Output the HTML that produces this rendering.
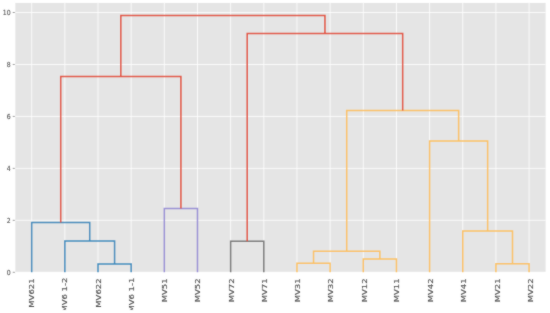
<!DOCTYPE html>
<html><head><meta charset="utf-8"><title>Dendrogram</title>
<style>html,body{margin:0;padding:0;background:#fff;width:550px;height:313px;overflow:hidden}svg{display:block}text{font-family:"DejaVu Sans","Liberation Sans",sans-serif;fill:#555555;stroke:#555555;stroke-width:0.2px}</style>
</head><body>
<svg width="550" height="313" viewBox="0 0 550 313">
<rect x="0" y="0" width="550" height="313" fill="#ffffff"/>
<defs><filter id="bl" x="-5%" y="-5%" width="110%" height="110%"><feConvolveMatrix order="3" kernelMatrix="1 2 1 2 20 2 1 2 1" edgeMode="duplicate"/></filter></defs>
<g filter="url(#bl)">
<defs><clipPath id="cb"><rect x="0" y="0" width="550" height="309.7"/></clipPath></defs>
<rect x="15.30" y="2.90" width="530.30" height="268.90" fill="#E5E5E5"/>
<path d="M31.68 2.90V271.80M64.84 2.90V271.80M98.00 2.90V271.80M131.16 2.90V271.80M164.32 2.90V271.80M197.48 2.90V271.80M230.64 2.90V271.80M263.80 2.90V271.80M296.96 2.90V271.80M330.12 2.90V271.80M363.28 2.90V271.80M396.44 2.90V271.80M429.60 2.90V271.80M462.76 2.90V271.80M495.92 2.90V271.80M529.08 2.90V271.80M15.30 220.34H545.60M15.30 168.38H545.60M15.30 116.42H545.60M15.30 64.46H545.60M15.30 12.50H545.60" stroke="#ffffff" stroke-width="0.8" fill="none"/>
<path d="M12.70 272.30H15.10M12.70 220.34H15.10M12.70 168.38H15.10M12.70 116.42H15.10M12.70 64.46H15.10M12.70 12.50H15.10" stroke="#555555" stroke-width="0.55" fill="none"/>
<text transform="translate(10.60,275.15) scale(0.88,1)" font-size="7.0" text-anchor="end" style="stroke-width:0.12px">0</text>
<text transform="translate(10.60,223.19) scale(0.88,1)" font-size="7.0" text-anchor="end" style="stroke-width:0.12px">2</text>
<text transform="translate(10.60,171.23) scale(0.88,1)" font-size="7.0" text-anchor="end" style="stroke-width:0.12px">4</text>
<text transform="translate(10.60,119.27) scale(0.88,1)" font-size="7.0" text-anchor="end" style="stroke-width:0.12px">6</text>
<text transform="translate(10.60,67.31) scale(0.88,1)" font-size="7.0" text-anchor="end" style="stroke-width:0.12px">8</text>
<text transform="translate(10.60,15.35) scale(0.88,1)" font-size="7.0" text-anchor="end" style="stroke-width:0.12px">10</text>
<path d="M98.00 272.30V263.91H131.16V272.30M64.84 272.30V240.89H114.58V263.91M31.68 272.30V222.50H89.71V240.89" stroke="#348ABD" stroke-width="1.5" fill="none" stroke-linejoin="miter" stroke-linecap="butt"/>
<path d="M164.32 272.30V208.49H197.48V272.30" stroke="#988ED5" stroke-width="1.5" fill="none" stroke-linejoin="miter" stroke-linecap="butt"/>
<path d="M230.64 272.30V241.20H263.80V272.30" stroke="#777777" stroke-width="1.5" fill="none" stroke-linejoin="miter" stroke-linecap="butt"/>
<path d="M296.96 272.30V263.31H330.12V272.30M363.28 272.30V258.89H396.44V272.30M313.54 263.31V251.31H379.86V258.89M495.92 272.30V263.80H529.08V272.30M462.76 272.30V230.89H512.50V263.80M429.60 272.30V141.10H487.63V230.89M346.70 251.31V110.50H458.62V141.10" stroke="#FBC15E" stroke-width="1.5" fill="none" stroke-linejoin="miter" stroke-linecap="butt"/>
<path d="M60.70 222.50V76.41H180.90V208.49M247.22 241.20V33.41H402.66V110.50M120.80 76.41V15.49H324.94V33.41" stroke="#E24A33" stroke-width="1.5" fill="none" stroke-linejoin="miter" stroke-linecap="butt"/>
<g clip-path="url(#cb)">
<text transform="translate(34.18,278.40) scale(0.92,1) rotate(-90)" font-size="8.5" text-anchor="end">MV621</text>
<text transform="translate(67.04,277.50) scale(0.92,1) rotate(-90)" font-size="8.5" text-anchor="end">MV6 1-2</text>
<text transform="translate(101.00,278.40) scale(0.92,1) rotate(-90)" font-size="8.5" text-anchor="end">MV622</text>
<text transform="translate(133.56,277.50) scale(0.92,1) rotate(-90)" font-size="8.5" text-anchor="end">MV6 1-1</text>
<text transform="translate(166.62,278.40) scale(0.92,1) rotate(-90)" font-size="8.5" text-anchor="end">MV51</text>
<text transform="translate(199.98,278.40) scale(0.92,1) rotate(-90)" font-size="8.5" text-anchor="end">MV52</text>
<text transform="translate(233.69,278.40) scale(0.92,1) rotate(-90)" font-size="8.5" text-anchor="end">MV72</text>
<text transform="translate(267.30,278.40) scale(0.92,1) rotate(-90)" font-size="8.5" text-anchor="end">MV71</text>
<text transform="translate(299.86,278.40) scale(0.92,1) rotate(-90)" font-size="8.5" text-anchor="end">MV31</text>
<text transform="translate(333.42,278.40) scale(0.92,1) rotate(-90)" font-size="8.5" text-anchor="end">MV32</text>
<text transform="translate(366.98,278.40) scale(0.92,1) rotate(-90)" font-size="8.5" text-anchor="end">MV12</text>
<text transform="translate(399.44,278.40) scale(0.92,1) rotate(-90)" font-size="8.5" text-anchor="end">MV11</text>
<text transform="translate(432.60,278.40) scale(0.92,1) rotate(-90)" font-size="8.5" text-anchor="end">MV42</text>
<text transform="translate(466.21,278.40) scale(0.92,1) rotate(-90)" font-size="8.5" text-anchor="end">MV41</text>
<text transform="translate(499.72,278.40) scale(0.92,1) rotate(-90)" font-size="8.5" text-anchor="end">MV21</text>
<text transform="translate(532.93,278.40) scale(0.92,1) rotate(-90)" font-size="8.5" text-anchor="end">MV22</text>
</g>
</g>
</svg>
</body></html>
